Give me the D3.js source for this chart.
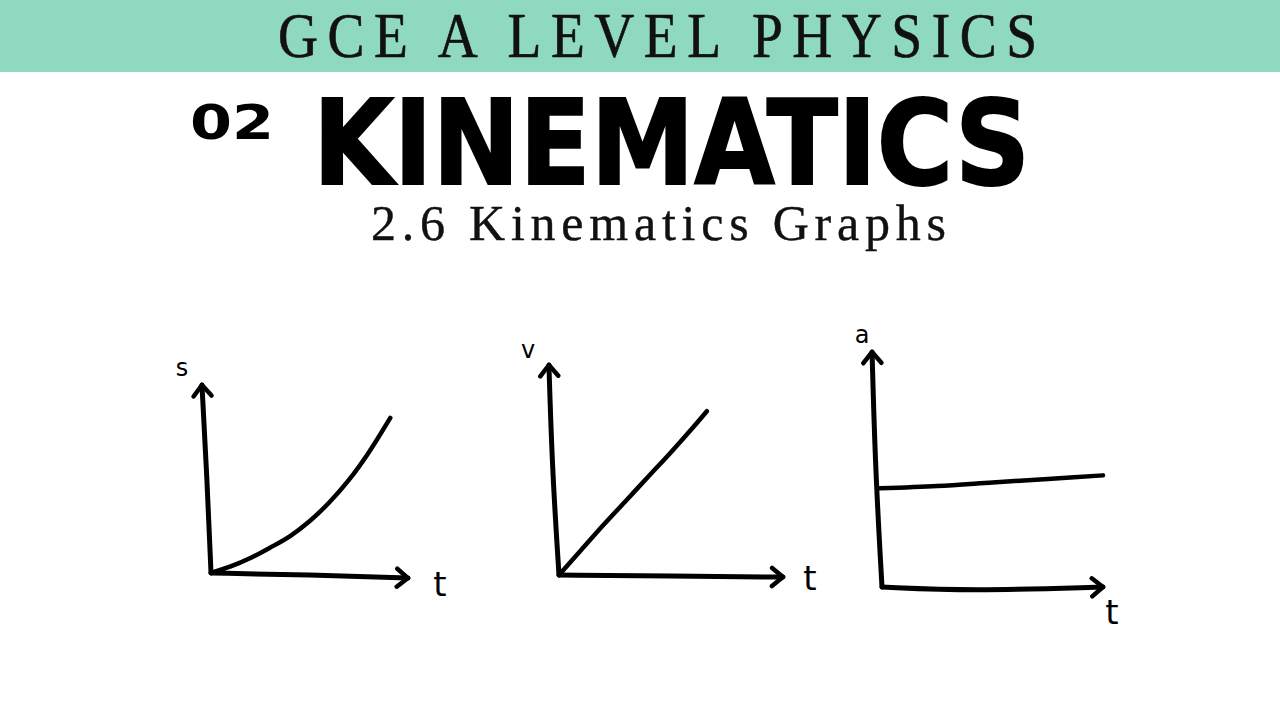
<!DOCTYPE html>
<html>
<head>
<meta charset="utf-8">
<script src="https://cdn.jsdelivr.net/npm/d3@7"></script>
<style>
  html, body { margin: 0; padding: 0; background: #fff; }
  svg { display: block; }
</style>
</head>
<body>
<svg id="chart"></svg>
<script>
// titles
var headerText = "GCE A LEVEL PHYSICS"
var chapterNo = "02"
var chapterText = "KINEMATICS"
var subText = "2.6 Kinematics Graphs"

// axis labels for the three sketches
var yLabels = ["s", "v", "a"]
var xLabel = "t"

// s-t : curve getting steeper
var sT = [0, 1, 2, 3, 4, 5, 6, 7, 8, 9.1]
var sVal = [0, 0.35, 0.8, 1.35, 1.95, 2.75, 3.75, 4.95, 6.4, 8.25]

// v-t : straight line through origin
var vT = [0, 1, 2, 3, 4, 5, 6, 6.6]
var vVal = [0, 1.2, 2.4, 3.55, 4.7, 5.85, 7.05, 7.8]

// a-t : constant (drawn slightly rising)
var aT = [-0.1, 2.5, 5, 7.5, 10]
var aVal = [4.2, 4.3, 4.45, 4.6, 4.75]

// hand drawn axis strokes, data units (slight wobble)
var yAxisPts = [
  [[0, 0], [-0.2, 5], [-0.46, 10]],
  [[0, 0], [-0.3, 5], [-0.45, 10]],
  [[0, 0], [-0.3, 5], [-0.45, 10]]
]
var xAxisPts = [
  [[0, 0], [5, -0.1], [10, -0.27]],
  [[0, 0], [5, -0.05], [10, -0.1]],
  [[0, 0], [4, -0.17], [10, 0]]
]

var width = 1280
var height = 720

var svg = d3.select("#chart")
  .attr("width", width)
  .attr("height", height)

// header band
svg.append("rect")
  .attr("x", 0).attr("y", 0)
  .attr("width", width).attr("height", 72)
  .attr("fill", "#8ed9bf")

// condensed serif look: squeeze glyphs a little, keep the spacing
var sq = 0.88
svg.append("text")
  .attr("transform", "scale(" + sq + ",1)")
  .attr("x", 278 / sq).attr("y", 57)
  .attr("textLength", 759 / sq)
  .attr("lengthAdjust", "spacing")
  .attr("font-family", "Liberation Serif, serif")
  .attr("font-size", 63)
  .attr("fill", "#111")
  .attr("stroke", "#111")
  .attr("stroke-width", 0.6)
  .text(headerText)

svg.append("text")
  .attr("x", 190).attr("y", 139)
  .attr("textLength", 84)
  .attr("lengthAdjust", "spacingAndGlyphs")
  .attr("font-family", "DejaVu Sans, sans-serif")
  .attr("font-weight", "bold")
  .attr("font-size", 48)
  .attr("fill", "#000")
  .text(chapterNo)

svg.append("text")
  .attr("x", 313).attr("y", 184)
  .attr("textLength", 717)
  .attr("lengthAdjust", "spacingAndGlyphs")
  .attr("font-family", "DejaVu Sans, sans-serif")
  .attr("font-weight", "bold")
  .attr("font-size", 118)
  .attr("fill", "#000")
  .attr("stroke", "#000")
  .attr("stroke-width", 2)
  .text(chapterText)

svg.append("text")
  .attr("x", 371).attr("y", 240)
  .attr("textLength", 575)
  .attr("lengthAdjust", "spacing")
  .attr("font-family", "Liberation Serif, serif")
  .attr("font-size", 50)
  .attr("fill", "#111")
  .attr("stroke", "#111")
  .attr("stroke-width", 0.4)
  .text(subText)

// open chevron arrow head
svg.append("defs").append("marker")
  .attr("id", "chev")
  .attr("markerUnits", "userSpaceOnUse")
  .attr("viewBox", "-16 -12 20 24")
  .attr("markerWidth", 20).attr("markerHeight", 24)
  .attr("refX", 0).attr("refY", 0)
  .attr("orient", "auto")
  .append("path")
  .attr("d", "M-11,-9 L0,0 L-11,9")
  .attr("fill", "none")
  .attr("stroke", "#000")
  .attr("stroke-width", 4.5)
  .attr("stroke-linecap", "round")
  .attr("stroke-linejoin", "round")

// panel placement: origin and axis ends in px
var panels = [
  {ox: 211, oy: 573, xEnd: 408, yEnd: 385, t: sT, y: sVal, lab: [182, 376], tLab: [440, 596]},
  {ox: 559, oy: 575, xEnd: 783, yEnd: 365, t: vT, y: vVal, lab: [528, 358], tLab: [810, 590]},
  {ox: 882, oy: 587, xEnd: 1103, yEnd: 352, t: aT, y: aVal, lab: [862, 343], tLab: [1112, 624]}
]

panels.forEach(function(p, i) {
  var x = d3.scaleLinear().domain([0, 10]).range([p.ox, p.xEnd])
  var y = d3.scaleLinear().domain([0, 10]).range([p.oy, p.yEnd])

  var line = d3.line()
    .x(d => x(d[0]))
    .y(d => y(d[1]))
    .curve(d3.curveBasis)

  var g = svg.append("g")

  g.append("path")
    .attr("d", line(yAxisPts[i]))
    .attr("fill", "none")
    .attr("stroke", "#000")
    .attr("stroke-width", 5)
    .attr("stroke-linecap", "round")
    .attr("marker-end", "url(#chev)")

  g.append("path")
    .attr("d", line(xAxisPts[i]))
    .attr("fill", "none")
    .attr("stroke", "#000")
    .attr("stroke-width", 5)
    .attr("stroke-linecap", "round")
    .attr("marker-end", "url(#chev)")

  var pts = p.t.map((t, k) => [t, p.y[k]])
  g.append("path")
    .attr("d", d3.line().x(d => x(d[0])).y(d => y(d[1])).curve(d3.curveCatmullRom)(pts))
    .attr("fill", "none")
    .attr("stroke", "#000")
    .attr("stroke-width", 4.5)
    .attr("stroke-linecap", "round")

  g.append("text")
    .attr("x", p.lab[0]).attr("y", p.lab[1])
    .attr("text-anchor", "middle")
    .attr("font-family", "DejaVu Sans, sans-serif")
    .attr("font-size", 24)
    .text(yLabels[i])

  g.append("text")
    .attr("x", p.tLab[0]).attr("y", p.tLab[1])
    .attr("text-anchor", "middle")
    .attr("font-family", "DejaVu Sans, sans-serif")
    .attr("font-size", 34)
    .text(xLabel)
})
</script>
</body>
</html>
